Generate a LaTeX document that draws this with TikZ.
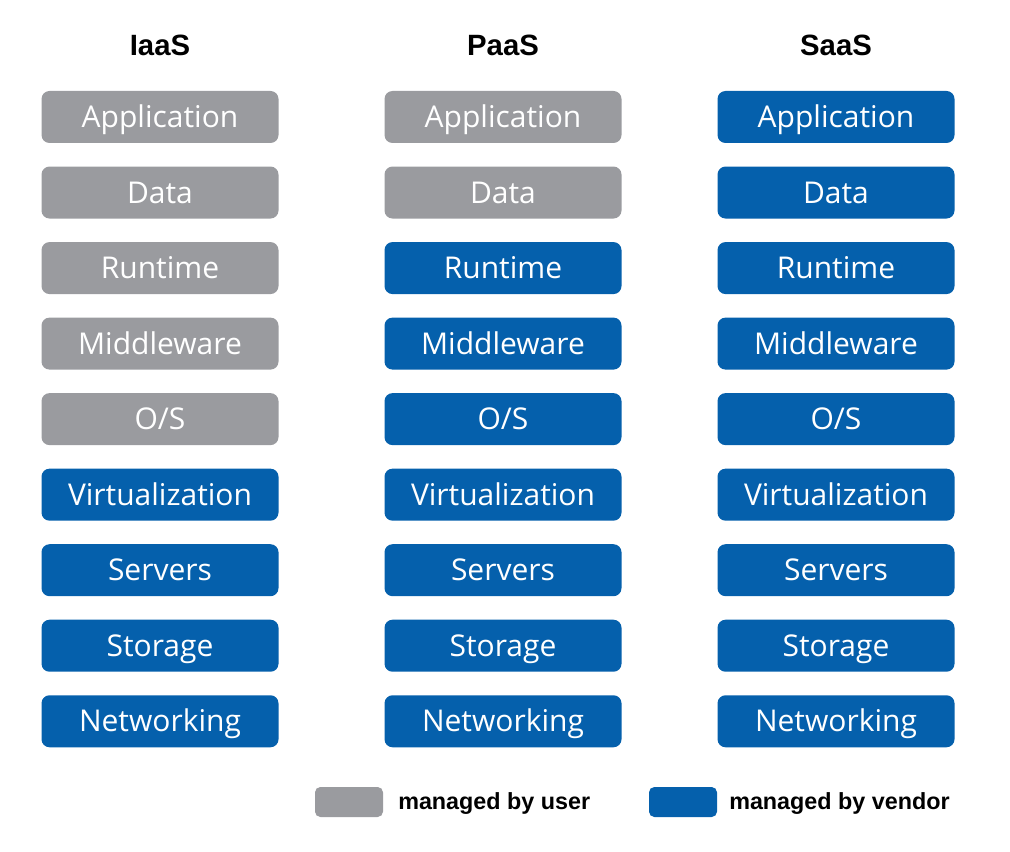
\documentclass[tikz,border=0pt]{standalone}
\usepackage{fontspec}
\setmainfont{Open Sans}
\newfontfamily\headfont{Liberation Sans}
\usetikzlibrary{positioning}
\definecolor{usergray}{HTML}{9A9B9F}
\definecolor{vendorblue}{HTML}{0560AC}

\begin{document}
\begin{tikzpicture}[x=0.75pt, y=-0.75pt,
  layer/.style={rounded corners=6pt, minimum width=177.75pt, minimum height=39pt, inner sep=0pt, text height=16pt, text depth=0pt, text=white, font=\fontsize{22.5}{26}\selectfont},
  user/.style={layer, fill=usergray},
  vendor/.style={layer, fill=vendorblue},
  head/.style={font=\headfont\bfseries\fontsize{22}{26}\selectfont},
  key/.style={rounded corners=4pt, minimum width=51pt, minimum height=22.5pt, inner sep=0pt},
  keytext/.style={font=\headfont\bfseries\fontsize{17.5}{20}\selectfont, anchor=base west, inner sep=0pt},
  node distance=17.25pt]
\useasboundingbox (0,0) rectangle (1010,852);
% headers
\node[head] (iaas) at (160,45) {IaaS};
\node[head] (paas) at (503,45) {PaaS};
\node[head] (saas) at (836,45) {SaaS};
% IaaS column
\node[user] (iapp) at (160,117) {Application};
\node[user, below=of iapp] (idata) {Data};
\node[user, below=of idata] (irun) {Runtime};
\node[user, below=of irun] (imid) {Middleware};
\node[user, below=of imid] (ios) {O/S};
\node[vendor, below=of ios] (ivirt) {Virtualization};
\node[vendor, below=of ivirt] (iserv) {Servers};
\node[vendor, below=of iserv] (istor) {Storage};
\node[vendor, below=of istor] (inet) {Networking};
% PaaS column
\node[user] (papp) at (503,117) {Application};
\node[user, below=of papp] (pdata) {Data};
\node[vendor, below=of pdata] (prun) {Runtime};
\node[vendor, below=of prun] (pmid) {Middleware};
\node[vendor, below=of pmid] (pos) {O/S};
\node[vendor, below=of pos] (pvirt) {Virtualization};
\node[vendor, below=of pvirt] (pserv) {Servers};
\node[vendor, below=of pserv] (pstor) {Storage};
\node[vendor, below=of pstor] (pnet) {Networking};
% SaaS column
\node[vendor] (sapp) at (836,117) {Application};
\node[vendor, below=of sapp] (sdata) {Data};
\node[vendor, below=of sdata] (srun) {Runtime};
\node[vendor, below=of srun] (smid) {Middleware};
\node[vendor, below=of smid] (sos) {O/S};
\node[vendor, below=of sos] (svirt) {Virtualization};
\node[vendor, below=of svirt] (sserv) {Servers};
\node[vendor, below=of sserv] (sstor) {Storage};
\node[vendor, below=of sstor] (snet) {Networking};
% legend
\node[key, fill=usergray] (keyuser) at (349,802) {};
\node[keytext] (keyusertext) at (398,809) {managed by user};
\node[key, fill=vendorblue] (keyvendor) at (683,802) {};
\node[keytext] (keyvendortext) at (729,809) {managed by vendor};
\end{tikzpicture}
\end{document}
